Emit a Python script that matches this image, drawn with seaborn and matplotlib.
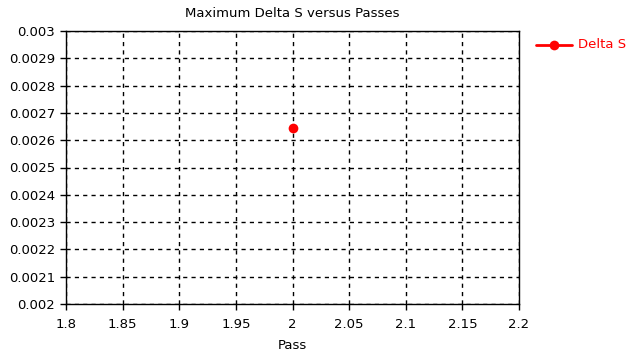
import matplotlib
matplotlib.use("Agg")
import matplotlib.pyplot as plt
import pandas as pd
import seaborn as sns

passes = [2]
delta_s = [0.002645]
series = ["Delta S"]

df = pd.DataFrame({"Pass": passes, "Delta S": delta_s, "series": series * len(passes)})

sns.set_style("white")
plt.rcParams["font.family"] = ["DejaVu Sans"]
plt.rcParams["font.size"] = 9
plt.rcParams["text.color"] = "black"
plt.rcParams["axes.labelcolor"] = "black"
plt.rcParams["xtick.color"] = "black"
plt.rcParams["ytick.color"] = "black"

fig = plt.figure(figsize=(6.36, 3.55), dpi=100)
ax = fig.add_axes([66 / 636, 1 - 304 / 355, (519 - 66) / 636, (304 - 31) / 355])

sns.lineplot(data=df, x="Pass", y="Delta S", hue="series", palette={"Delta S": "#ff0000"},
             marker="o", markersize=7, markeredgewidth=0, linewidth=2, ax=ax, legend=False)

ax.set_xlim(1.8, 2.2)
ax.set_ylim(0.002, 0.003)
xt = [1.8, 1.85, 1.9, 1.95, 2.0, 2.05, 2.1, 2.15, 2.2]
yt = [0.002 + i * 0.0001 for i in range(11)]
ax.set_xticks(xt)
ax.set_xticklabels(["1.8", "1.85", "1.9", "1.95", "2", "2.05", "2.1", "2.15", "2.2"])
ax.set_yticks(yt)
ax.set_yticklabels(["0.002"] + ["0.00%d" % (20 + i) for i in range(1, 10)] + ["0.003"])
ax.grid(True, color="black", linestyle=(0, (3, 3)), linewidth=1)
for s in ax.spines.values():
    s.set_color("black")
    s.set_linewidth(1)
ax.tick_params(direction="out", length=4, width=1, color="black", labelsize=9.5,
               labelcolor="black", left=True, bottom=True)
ax.tick_params(axis="x", pad=6)
ax.tick_params(axis="y", pad=4)

ax.set_xlabel("Pass", fontsize=9.5, labelpad=6, color="black")
ax.set_ylabel("")
ax.set_title("Maximum Delta S versus Passes", fontsize=9.5, pad=10, color="black")

fig.lines.append(plt.Line2D([536 / 636, 572 / 636], [1 - 45 / 355] * 2, color="#ff0000",
                            linewidth=2, transform=fig.transFigure))
fig.lines.append(plt.Line2D([554 / 636], [1 - 45 / 355], color="#ff0000", marker="o",
                            markersize=7, markeredgewidth=0, transform=fig.transFigure))
fig.text(578 / 636, 1 - 45 / 355, "Delta S", color="#ff0000", fontsize=9.5, va="center")

fig.savefig("out.png", dpi=100)
